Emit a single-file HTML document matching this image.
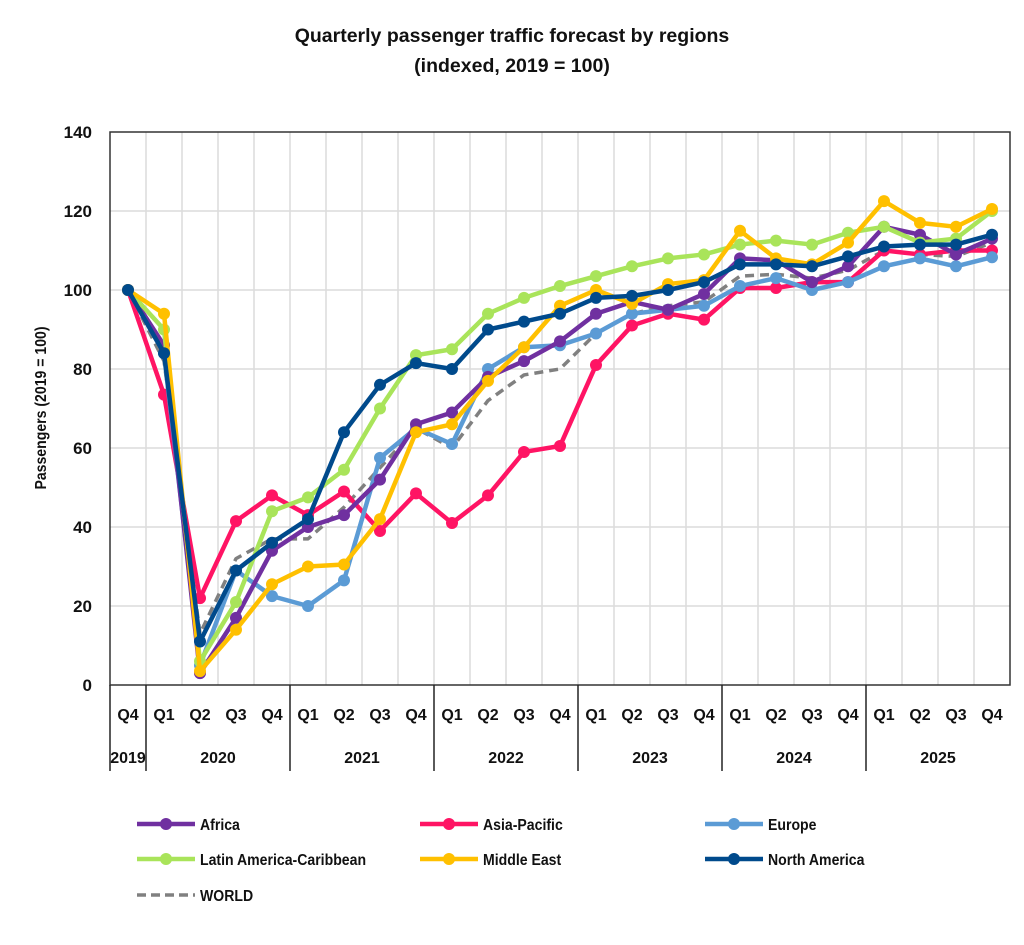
<!DOCTYPE html>
<html><head><meta charset="utf-8"><style>
html,body{margin:0;padding:0;background:#fff}
svg{display:block}
text{font-family:"Liberation Sans",Arial,sans-serif;font-weight:bold;fill:#111}
</style></head><body>
<svg id="s" width="1024" height="945" viewBox="0 0 1024 945" xmlns="http://www.w3.org/2000/svg">
<text x="512" y="42" text-anchor="middle" font-size="19.5">Quarterly passenger traffic forecast by regions</text>
<text x="512" y="72" text-anchor="middle" font-size="19.5">(indexed, 2019 = 100)</text>
<text transform="translate(46,408) rotate(-90) scale(0.88,1)" text-anchor="middle" font-size="16">Passengers (2019 = 100)</text>
<g id="g"></g>
</svg>
<script>
const g=document.getElementById('g');const NS='http://www.w3.org/2000/svg';
function el(t,a,txt){const e=document.createElementNS(NS,t);for(const k in a)e.setAttribute(k,a[k]);if(txt!==undefined)e.textContent=txt;g.appendChild(e);return e;}
const L=110,R=1010,T=132,B=685,cw=36;
const Y=v=>B-(B-T)*v/140, X=i=>L+cw/2+cw*i;
for(let i=1;i<25;i++)el('line',{x1:L+cw*i,x2:L+cw*i,y1:T,y2:B,stroke:'#dcdcdc','stroke-width':1.5});
for(let v=20;v<=120;v+=20)el('line',{x1:L,x2:R,y1:Y(v),y2:Y(v),stroke:'#dcdcdc','stroke-width':1.5});
el('rect',{x:L,y:T,width:R-L,height:B-T,fill:'none',stroke:'#333','stroke-width':1.5});
for(let v=0;v<=140;v+=20)el('text',{x:92,y:Y(v)+6,'text-anchor':'end','font-size':17},v);
[L,146,290,434,578,722,866].forEach(x=>el('line',{x1:x,x2:x,y1:B,y2:771,stroke:'#222','stroke-width':1.5}));
const q=['Q4'];for(let y=0;y<6;y++)q.push('Q1','Q2','Q3','Q4');
q.forEach((s,i)=>el('text',{x:X(i),y:720,'text-anchor':'middle','font-size':16},s));
el('text',{x:128,y:763,'text-anchor':'middle','font-size':16},'2019');
for(let y=0;y<6;y++)el('text',{x:218+144*y,y:763,'text-anchor':'middle','font-size':16},2020+y);
const S=[
['#7030a0',[100,86,3,17,34,40,43,52,66,69,78,82,87,94,97,95,99,108,107.5,102,106,116,114,109,113],0],
['#ff1464',[100,73.5,22,41.5,48,43,49,39,48.5,41,48,59,60.5,81,91,94,92.5,100.5,100.5,102,102,110,109,110,110],0],
['#5b9bd5',[100,84,5,29,22.5,20,26.5,57.5,65,61,80,85.5,86,89,94,95,96,101,103,100,102,106,108,106,108.3],0],
['#a9e45a',[100,90,6,21,44,47.5,54.5,70,83.5,85,94,98,101,103.5,106,108,109,111.5,112.5,111.5,114.5,116,112,113,120],0],
['#ffc000',[100,94,3.5,14,25.5,30,30.5,42,64,66,77,85.5,96,100,96.5,101.5,102.5,115,108,106.5,112,122.5,117,116,120.5],0],
['#004a8c',[100,84,11,29,36,42,64,76,81.5,80,90,92,94,98,98.5,100,102,106.5,106.5,106,108.5,111,111.5,111.5,114],0],
['#808080',[100,82,13,32,37,37,45,55,65,60,72,78.5,80,89,94,96,97,103.5,104,103,105,110,109,108.5,112],1]];
const order=[6,1,2,0,3,4,5];
order.forEach(k=>{const [c,d,dash]=S[k];const pts=d.map((v,i)=>X(i)+','+Y(v)).join(' ');
 const a={points:pts,fill:'none',stroke:c,'stroke-width':dash?3.5:4.5,'stroke-linejoin':'round'};if(dash)a['stroke-dasharray']='9,6';el('polyline',a);
 if(!dash)d.forEach((v,i)=>el('circle',{cx:X(i),cy:Y(v),r:6,fill:c}));});
const lg=[['Africa',0,137,824],['Asia-Pacific',1,420,824],['Europe',2,705,824],['Latin America-Caribbean',3,137,859],['Middle East',4,420,859],['North America',5,705,859],['WORLD',6,137,895]];
lg.forEach(([n,k,x,y])=>{const [c,,dash]=S[k];const a={x1:x,x2:x+58,y1:y,y2:y,stroke:c,'stroke-width':dash?3.5:4.5};if(dash)a['stroke-dasharray']='9,5';el('line',a);
 if(!dash)el('circle',{cx:x+29,cy:y,r:6,fill:c});
 el('text',{x:x+63,y:y+6,'font-size':16,transform:`translate(${x+63},0) scale(0.88,1) translate(${-(x+63)},0)`},n);});
</script>
</body></html>
